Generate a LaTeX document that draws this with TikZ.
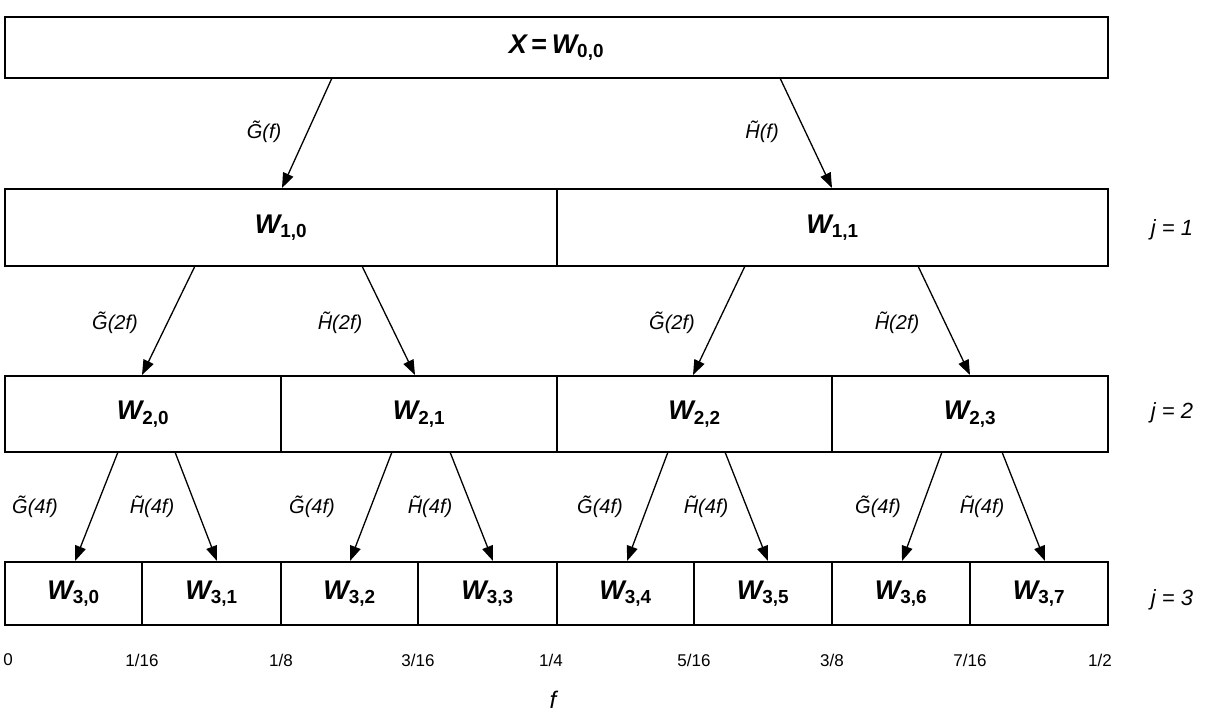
\documentclass[tikz,border=0pt]{standalone}
\usepackage{fontspec}
\setmainfont{Liberation Sans}
\usetikzlibrary{arrows.meta}
\begin{document}
\begin{tikzpicture}[x=1pt,y=-1pt,
 box/.style={draw,line width=1.1pt,inner sep=0pt,font=\fontsize{27}{29}\selectfont\bfseries\itshape},
 lab/.style={font=\fontsize{20}{22}\selectfont\itshape},
 tick/.style={font=\fontsize{17}{19}\selectfont},
 jl/.style={font=\fontsize{22}{24}\selectfont\itshape},
 arr/.style={line width=1.3pt,-{Triangle[length=15pt,width=11pt]}}]
\useasboundingbox (0,0) rectangle (1205,717);
\newcommand{\Wl}[2]{W\textsubscript{\upshape\bfseries #1,#2}}
\node[box,minimum width=1103,minimum height=61] (x) at (556.5,47.5) {X\,\upshape=\,\itshape\Wl{0}{0}};
\node[box,minimum width=552,minimum height=77] (w10) at (281,227.5) {\Wl{1}{0}};
\node[box,minimum width=551,minimum height=77] (w11) at (832.5,227.5) {\Wl{1}{1}};
\foreach \i/\a/\b in {0/5/281,1/281/557,2/557/832,3/832/1108}
  \node[box,minimum width=\b-\a,minimum height=76] (w2\i) at ({(\a+\b)/2},414) {\Wl{2}{\i}};
\foreach \i/\a/\b in {0/5/142,1/142/281,2/281/418,3/418/557,4/557/694,5/694/832,6/832/970,7/970/1108}
  \node[box,minimum width=\b-\a,minimum height=63] (w3\i) at ({(\a+\b)/2},593.5) {\Wl{3}{\i}};
\coordinate (x0) at (332,78); \coordinate (x1) at (780,78);
\draw[arr] (x0) -- (282,188);
\draw[arr] (x1) -- (832,188);
\node[lab] (lg) at (264,132) {\~{G}(f)};
\node[lab] (lh) at (762,132) {\~{H}(f)};
\foreach \s/\e/\t/\lx in {195/142/\~{G}(2f)/115, 362/415/\~{H}(2f)/340, 745/693/\~{G}(2f)/672, 918/970/\~{H}(2f)/897}{
  \draw[arr] (\s,266) -- (\e,375);
  \node[lab] at (\lx,323) {\t};}
\foreach \s/\e/\t/\lx in {118/75/\~{G}(4f)/35, 175/217/\~{H}(4f)/152, 392/350/\~{G}(4f)/312, 450/493/\~{H}(4f)/430, 668/627/\~{G}(4f)/600, 725/768/\~{H}(4f)/706, 942/902/\~{G}(4f)/878, 1002/1045/\~{H}(4f)/982}{
  \draw[arr] (\s,452) -- (\e,561);
  \node[lab] at (\lx,507) {\t};}
\foreach \x/\t in {8/0,142/1\slash16,281/1\slash8,418/3\slash16,551/1\slash4,694/5\slash16,832/3\slash8,970/7\slash16,1100/1\slash2}
  \node[tick] at (\x,660) {\t};
\node[font=\fontsize{24}{26}\selectfont\itshape] (f) at (553,700) {f};
\node[jl] (j1) at (1172,230) {j = 1};
\node[jl] (j2) at (1172,413) {j = 2};
\node[jl] (j3) at (1172,600) {j = 3};
\end{tikzpicture}
\end{document}
